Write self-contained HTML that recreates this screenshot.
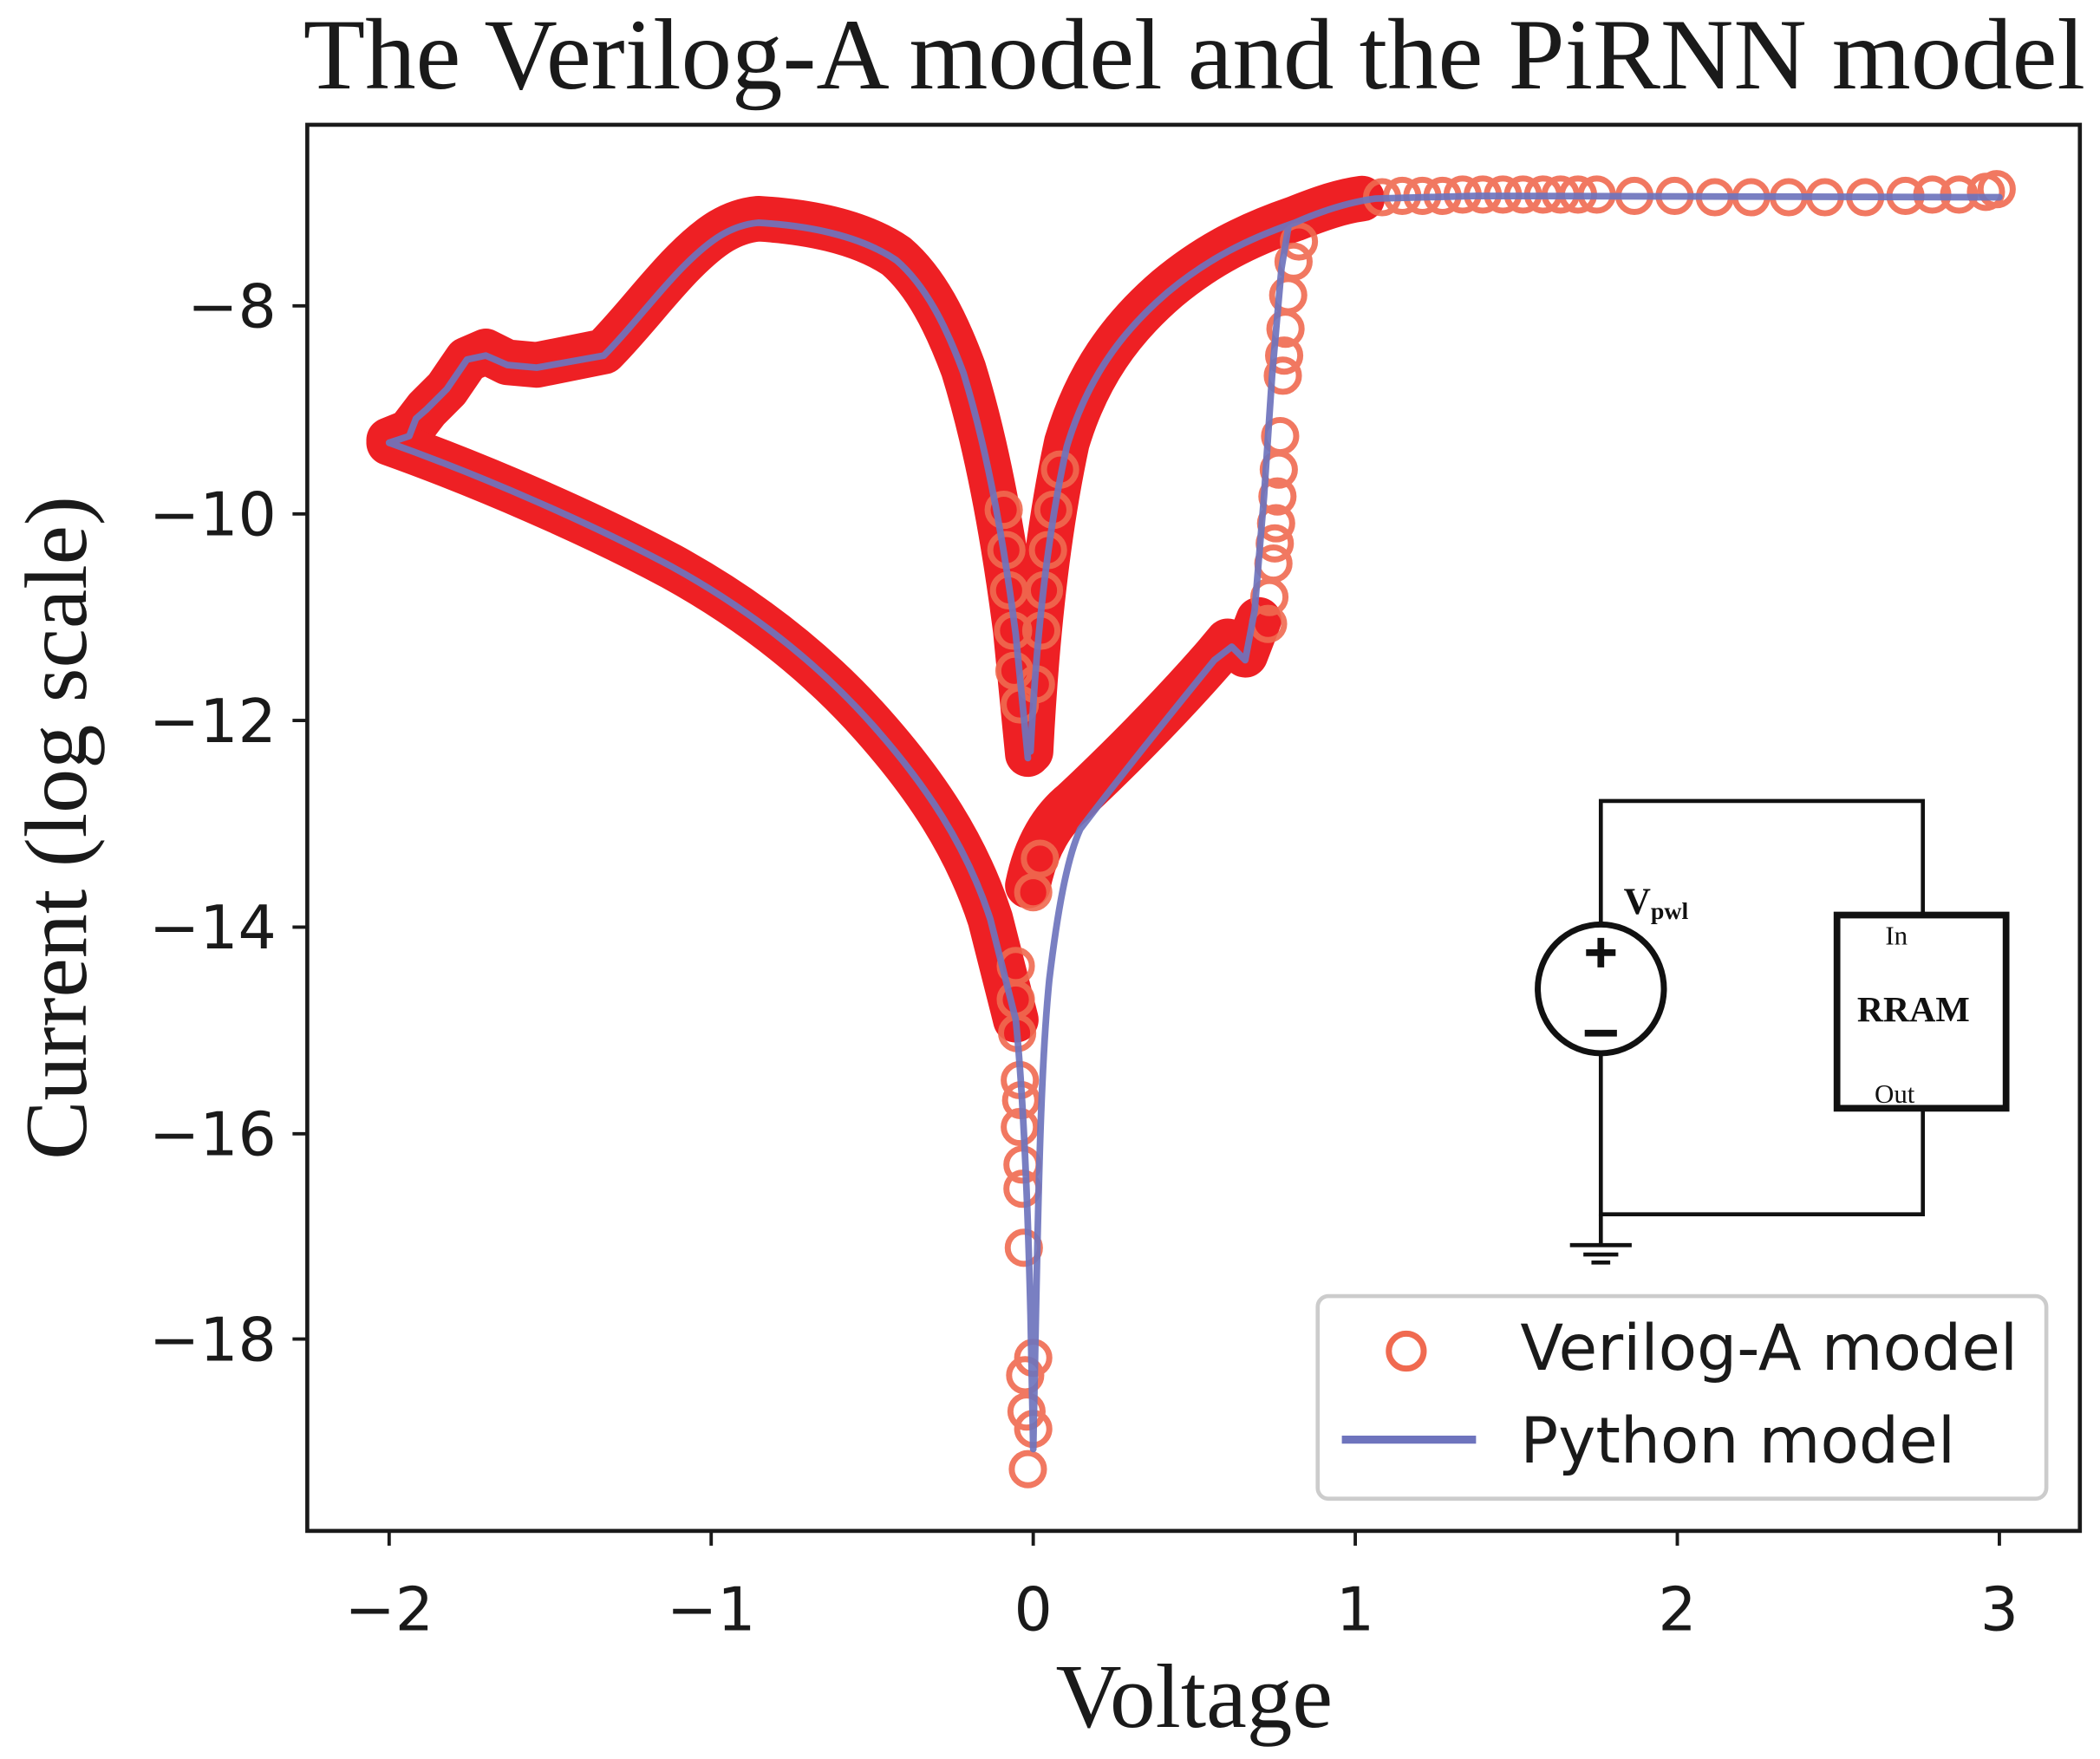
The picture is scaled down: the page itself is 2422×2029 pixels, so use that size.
<!DOCTYPE html>
<html><head><meta charset="utf-8"><style>html,body{margin:0;padding:0;background:#fff}svg{display:block}</style></head>
<body>
<svg xmlns="http://www.w3.org/2000/svg" width="2422" height="2029" viewBox="0 0 1565 1311" preserveAspectRatio="none">
<rect width="1565" height="1311" fill="#fff"/>
<text x="890" y="66" font-family="Liberation Serif, serif" font-size="75" text-anchor="middle" fill="#1a1a1a" textLength="1328" lengthAdjust="spacingAndGlyphs">The Verilog-A model and the PiRNN model</text>
<g fill="none" stroke-linejoin="round" stroke-linecap="round">
<g stroke="#ee2024" stroke-width="34">
<path d="M290,328 L305,322 L318,305 L333,290 L348,268 L362,262 L378,270 L400,272 L450,262 C470,242 490,215 510,195 C530,175 545,165 565,163 C600,165 640,172 668,191 C690,210 705,240 718,275 C735,330 748,400 757,470 L766,562"/>
<path d="M290,330 C360,355 440,390 500,422 C560,455 610,495 650,540 C690,585 720,630 738,685 L757,760"/>
<path d="M766,660 C772,630 785,610 800,598 C830,570 870,530 905,490 L915,478 L928,488 L938,462"/>
<path d="M768,560 C772,480 780,400 795,330 C810,280 835,245 870,215 C900,190 930,175 965,163 C985,155 1000,150 1015,148"/>
</g>
<g stroke="#f06a50" stroke-width="4.5" opacity="0.9">
<circle cx="1030" cy="147" r="12"/><circle cx="1045" cy="146" r="12"/><circle cx="1060" cy="146" r="12"/><circle cx="1075" cy="146" r="12"/><circle cx="1090" cy="145" r="12"/><circle cx="1105" cy="145" r="12"/><circle cx="1120" cy="145" r="12"/><circle cx="1135" cy="145" r="12"/><circle cx="1150" cy="145" r="12"/><circle cx="1163" cy="145" r="12"/><circle cx="1176" cy="145" r="12"/><circle cx="1190" cy="145" r="12"/><circle cx="1218" cy="146" r="12"/><circle cx="1248" cy="146" r="12"/><circle cx="1278" cy="147" r="12"/><circle cx="1305" cy="147" r="12"/><circle cx="1333" cy="147" r="12"/><circle cx="1360" cy="147" r="12"/><circle cx="1390" cy="147" r="12"/><circle cx="1420" cy="146" r="12"/><circle cx="1440" cy="145" r="12"/><circle cx="1460" cy="145" r="12"/><circle cx="1480" cy="143" r="12"/><circle cx="1488" cy="141" r="12"/>
<circle cx="968" cy="180" r="12"/><circle cx="964" cy="195" r="12"/><circle cx="960" cy="220" r="12"/><circle cx="958" cy="245" r="12"/><circle cx="957" cy="265" r="12"/><circle cx="956" cy="280" r="12"/><circle cx="954" cy="325" r="12"/><circle cx="953" cy="350" r="12"/><circle cx="952" cy="370" r="12"/><circle cx="951" cy="390" r="12"/><circle cx="950" cy="405" r="12"/><circle cx="949" cy="420" r="12"/><circle cx="946" cy="445" r="12"/><circle cx="945" cy="465" r="12"/>
<circle cx="748" cy="380" r="12"/><circle cx="750" cy="410" r="12"/><circle cx="752" cy="440" r="12"/><circle cx="755" cy="470" r="12"/><circle cx="756" cy="500" r="12"/><circle cx="760" cy="525" r="12"/>
<circle cx="790" cy="350" r="12"/><circle cx="785" cy="380" r="12"/><circle cx="781" cy="410" r="12"/><circle cx="778" cy="440" r="12"/><circle cx="776" cy="470" r="12"/><circle cx="772" cy="510" r="12"/>
<circle cx="757" cy="720" r="12"/><circle cx="757" cy="745" r="12"/><circle cx="758" cy="770" r="12"/><circle cx="760" cy="805" r="12"/><circle cx="761" cy="820" r="12"/><circle cx="760" cy="840" r="12"/><circle cx="762" cy="868" r="12"/><circle cx="762" cy="886" r="12"/><circle cx="763" cy="930" r="12"/><circle cx="770" cy="1012" r="12"/><circle cx="764" cy="1025" r="12"/><circle cx="765" cy="1052" r="12"/><circle cx="770" cy="1065" r="12"/><circle cx="766" cy="1095" r="12"/>
<circle cx="770" cy="665" r="12"/><circle cx="775" cy="640" r="12"/>
</g>
<g stroke="#6e74bd" stroke-width="5" opacity="0.92">
<path d="M290,330 L305,325 L310,312 L318,305 L333,290 L348,268 L362,265 L378,272 L400,274 L450,265 C470,245 490,218 510,198 C530,178 545,168 565,166 C600,168 640,175 668,194 C690,213 705,243 718,278 C735,333 748,403 757,473 L766,565"/>
<path d="M290,330 C360,355 440,390 500,422 C560,455 610,495 650,540 C690,585 720,630 738,685 L757,760 C763,820 766,900 768,980 L770,1080 L772,980 C774,880 776,790 782,730 C788,680 795,640 805,618 C830,585 870,535 905,492 L918,482 L928,492 L935,455 L942,370 L948,280 L955,200 L960,170"/>
<path d="M768,560 C772,480 780,400 795,333 C810,283 835,248 870,218 C900,193 930,178 965,166 C990,155 1010,150 1025,148 L1100,146 L1490,147"/>
</g>
</g>
<rect x="229" y="93" width="1321" height="1048" fill="none" stroke="#1a1a1a" stroke-width="3"/>
<g stroke="#1a1a1a" stroke-width="2.5">
<line x1="290" y1="1141" x2="290" y2="1152"/><line x1="530" y1="1141" x2="530" y2="1152"/><line x1="770" y1="1141" x2="770" y2="1152"/><line x1="1010" y1="1141" x2="1010" y2="1152"/><line x1="1250" y1="1141" x2="1250" y2="1152"/><line x1="1490" y1="1141" x2="1490" y2="1152"/>
<line x1="218" y1="228" x2="229" y2="228"/><line x1="218" y1="383" x2="229" y2="383"/><line x1="218" y1="537" x2="229" y2="537"/><line x1="218" y1="691" x2="229" y2="691"/><line x1="218" y1="845" x2="229" y2="845"/><line x1="218" y1="998" x2="229" y2="998"/>
</g>
<g font-family="DejaVu Sans, sans-serif" font-size="45" fill="#1a1a1a">
<g text-anchor="middle">
<text x="290" y="1215">−2</text><text x="530" y="1215">−1</text><text x="770" y="1215">0</text><text x="1010" y="1215">1</text><text x="1250" y="1215">2</text><text x="1490" y="1215">3</text>
</g>
<g text-anchor="end">
<text x="206" y="244">−8</text><text x="206" y="399">−10</text><text x="206" y="553">−12</text><text x="206" y="707">−14</text><text x="206" y="861">−16</text><text x="206" y="1014">−18</text>
</g>
</g>
<text x="890" y="1287" font-family="Liberation Serif, serif" font-size="68" text-anchor="middle" fill="#1a1a1a">Voltage</text>
<text transform="translate(64,617) rotate(-90)" font-family="Liberation Serif, serif" font-size="66" text-anchor="middle" fill="#1a1a1a">Current (log scale)</text>
<g stroke="#111" fill="none">
<path d="M1193,690 L1193,597 L1433,597 L1433,682" stroke-width="3"/>
<path d="M1193,785 L1193,905 L1433,905 L1433,826" stroke-width="3"/>
<ellipse cx="1193" cy="737" rx="47" ry="48" stroke-width="4.5"/>
<rect x="1369" y="682" width="126" height="144" stroke-width="5"/>
<path d="M1193,905 L1193,928 M1170,928 L1216,928 M1180,935 L1206,935 M1186,941 L1200,941" stroke-width="3"/>
<path d="M1182,710 L1204,710 M1193,699 L1193,721" stroke-width="5"/>
<path d="M1181,770 L1205,770" stroke-width="5"/>
</g>
<g font-family="Liberation Serif, serif" fill="#111">
<text x="1210" y="681" font-size="28" font-weight="bold">V<tspan font-size="18" dy="4">pwl</tspan></text>
<text x="1405" y="704" font-size="20">In</text>
<text x="1384" y="761" font-size="27" font-weight="bold">RRAM</text>
<text x="1397" y="822" font-size="20">Out</text>
</g>
<rect x="982" y="966" width="543" height="151" rx="8" fill="#fff" fill-opacity="0.85" stroke="#cccccc" stroke-width="3"/>
<circle cx="1048" cy="1007" r="13" fill="none" stroke="#f06a50" stroke-width="4.5"/>
<line x1="1000" y1="1073" x2="1100" y2="1073" stroke="#6e74bd" stroke-width="6"/>
<g font-family="DejaVu Sans, sans-serif" font-size="47" fill="#1a1a1a">
<text x="1133" y="1021">Verilog-A model</text>
<text x="1133" y="1090">Python model</text>
</g>
</svg>
</body></html>
